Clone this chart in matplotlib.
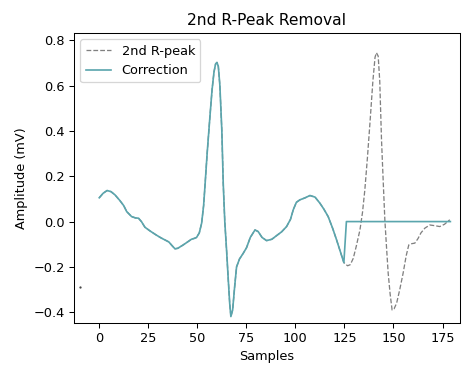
import numpy as np
import matplotlib
matplotlib.use('Agg')
import matplotlib.pyplot as plt

# samples / amplitude (mV)
samples = [0, 2, 4, 6, 8, 10.5, 12.5, 14, 16.5, 18.5, 20, 21.5, 23.3, 26, 29, 31.5, 33.5,
           35.5, 37, 38.6, 40, 42.8, 45, 47, 48.5, 49.6, 51, 52.2, 53.2, 54, 55, 56.4,
           57.5, 58.5, 59.3, 60, 60.7, 61.5, 62.5, 63.2, 64, 64.9, 65.8, 66.5, 67.1, 68,
           69, 70, 71.5, 73.4, 75.1, 77, 79.4, 81, 83, 85.3, 88, 90.4, 93, 95.5, 97.5,
           98.9, 100.5, 102.3, 105, 107.4, 110, 112.5, 114.5, 116.7, 119, 121, 123,
           124.7, 126.6, 128, 129.5, 131, 132.9, 134.2, 135.4, 136.7, 138, 139.5, 140.6,
           141.3, 142.2, 143, 143.9, 144.8, 145.6, 146.5, 147.3, 148.3, 149.3, 150.3, 151.6,
           153.2, 154.9, 156.5, 157.8, 159, 160.9, 162.5, 164, 166, 168.5, 171, 173.6,
           176, 178.7]
amplitude = [0.105, 0.125, 0.137, 0.132, 0.118, 0.093, 0.07, 0.044, 0.022, 0.016, 0.015,
             0.0, -0.025, -0.042, -0.059, -0.072, -0.081, -0.09, -0.105, -0.12, -0.118,
             -0.103, -0.09, -0.078, -0.074, -0.07, -0.05, -0.007, 0.07, 0.17, 0.30, 0.46,
             0.58, 0.66, 0.695, 0.702, 0.685, 0.60, 0.40, 0.17, 0.0, -0.125, -0.26, -0.36,
             -0.419, -0.39, -0.29, -0.2, -0.165, -0.14, -0.115, -0.07, -0.037, -0.044, -0.07,
             -0.084, -0.078, -0.062, -0.045, -0.022, 0.01, 0.052, 0.085, 0.096, 0.105,
             0.115, 0.108, 0.081, 0.055, 0.022, -0.03, -0.081, -0.135, -0.181, -0.195,
             -0.19, -0.162, -0.11, -0.037, 0.04, 0.14, 0.28, 0.434, 0.62, 0.725, 0.745, 0.73,
             0.62, 0.36, 0.17, 0.008, -0.12, -0.228, -0.32, -0.39, -0.385, -0.36, -0.30, -0.228,
             -0.15, -0.103, -0.098, -0.095, -0.075, -0.05, -0.029, -0.015, -0.018, -0.022,
             -0.012, 0.008]

cut_at = 125       # last sample kept before the 2nd R-peak
corr_start = 126   # correction flat line starts here
corr_end = 179
stray_x, stray_y = -9.6, -0.29

samples = np.array(samples)
amplitude = np.array(amplitude)
keep = samples <= cut_at
corr_x = np.concatenate([samples[keep], [corr_start, corr_end]])
corr_y = np.concatenate([amplitude[keep], [0.0, 0.0]])

# reference text is a bit smaller than the 100 dpi default
fig = plt.figure(figsize=(474 / 93, 379 / 93), dpi=93)
ax = fig.add_axes([0.156, 0.148, 0.814, 0.765])

ax.plot(samples, amplitude, '--', color='gray', lw=1, label='2nd R-peak')
ax.plot(corr_x, corr_y, color='#5aa5ad', lw=1.3, label='Correction')
ax.plot(stray_x, stray_y, marker='.', ms=1.5, color='#444444', ls='none')

ax.set_xlim(-12.9, 183.8)
ax.set_ylim(-0.447, 0.832)
ax.set_xticks([0, 25, 50, 75, 100, 125, 150, 175])
ax.set_yticks([-0.4, -0.2, 0.0, 0.2, 0.4, 0.6, 0.8])
ax.set_title('2nd R-Peak Removal')
ax.set_xlabel('Samples')
ax.set_ylabel('Amplitude (mV)')
ax.legend(loc='upper left')

fig.savefig('out.png', dpi=93)
